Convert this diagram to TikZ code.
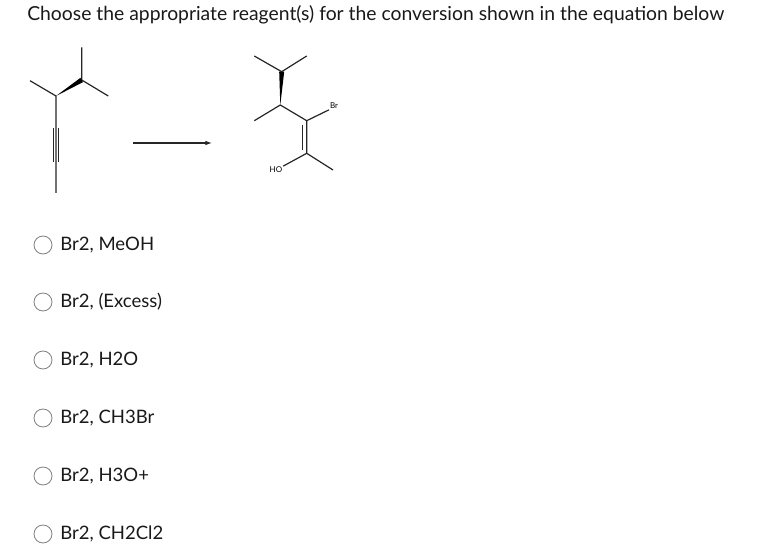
\documentclass[tikz,border=0pt]{standalone}
\usetikzlibrary{calc,arrows.meta}
\usepackage{fontspec}
\setmainfont{Lato}
\begin{document}
\begin{tikzpicture}[x=0.75pt,y=-0.75pt,
  bond/.style={line width=0.9pt,black!85},
  opt/.style={circle,draw=black!50,line width=0.6pt,minimum size=13.5pt,inner sep=0pt},
  lbl/.style={anchor=west,font=\fontsize{13.9}{16}\selectfont,text=black!90,inner sep=0pt},
  atom/.style={font=\fontsize{6}{7}\selectfont,inner sep=0.5pt}]
\useasboundingbox (0,0) rectangle (757,552);
\node[anchor=west,inner sep=0pt,font=\fontsize{14.5}{16}\selectfont,text=black!90] (title) at (27,15) {Choose the appropriate reagent(s) for the conversion shown in the equation below};
% left molecule
\coordinate (a1) at (81.7,47.3);
\coordinate (a2) at (81.7,80);
\coordinate (a3) at (108.3,96);
\coordinate (a4) at (30,80.7);
\coordinate (a5) at (56,96);
\coordinate (a6) at (56,193);
\draw[bond] (a1)--(a2)--(a3);
\draw[bond] (a4)--(a5)--(a6);
\fill (a5) -- ($(a2)+(-1.2,-2.2)$) -- ($(a2)+(1.2,2.2)$) -- cycle;
\draw[bond] (53.3,128)--(53.3,162) (58.7,128)--(58.7,162);
% arrow
\coordinate (r1) at (133,143);
\coordinate (r2) at (212,143);
\draw[bond,-{Latex[length=5pt,width=3.5pt]}] (r1)--(r2);
% right molecule
\coordinate (b1) at (254.3,56);
\coordinate (b2) at (281.7,71.7);
\coordinate (b3) at (306.7,56);
\coordinate (b4) at (280.3,105);
\coordinate (b5) at (254.3,120.7);
\coordinate (b6) at (306.7,120.7);
\coordinate (b7) at (306.7,153.3);
\coordinate (b8) at (333,170);
\node[atom] (br) at (334,106) {Br};
\node[atom] (ho) at (276,170) {HO};
\draw[bond] (b1)--(b2)--(b3);
\fill (b4) -- ($(b2)+(-2.5,0)$) -- ($(b2)+(2.5,0)$) -- cycle;
\draw[bond] (b5)--(b4)--(b6)--(br.south west);
\draw[bond] (b6)--(b7)--(b8);
\draw[bond] (302.7,125)--(302.7,150);
\draw[bond] (b7)--(ho.north east);
% options
\foreach \y/\t [count=\i] in {245/{Br2, MeOH},302/{Br2, (Excess)},360/{Br2, H2O},418/{Br2, CH3Br},476/{Br2, H3O+},534/{Br2, CH2Cl2}}{
  \node[opt] (c\i) at (43,\y) {};
  \node[lbl] (t\i) at (60,\y) {\t};
}
\end{tikzpicture}
\end{document}
